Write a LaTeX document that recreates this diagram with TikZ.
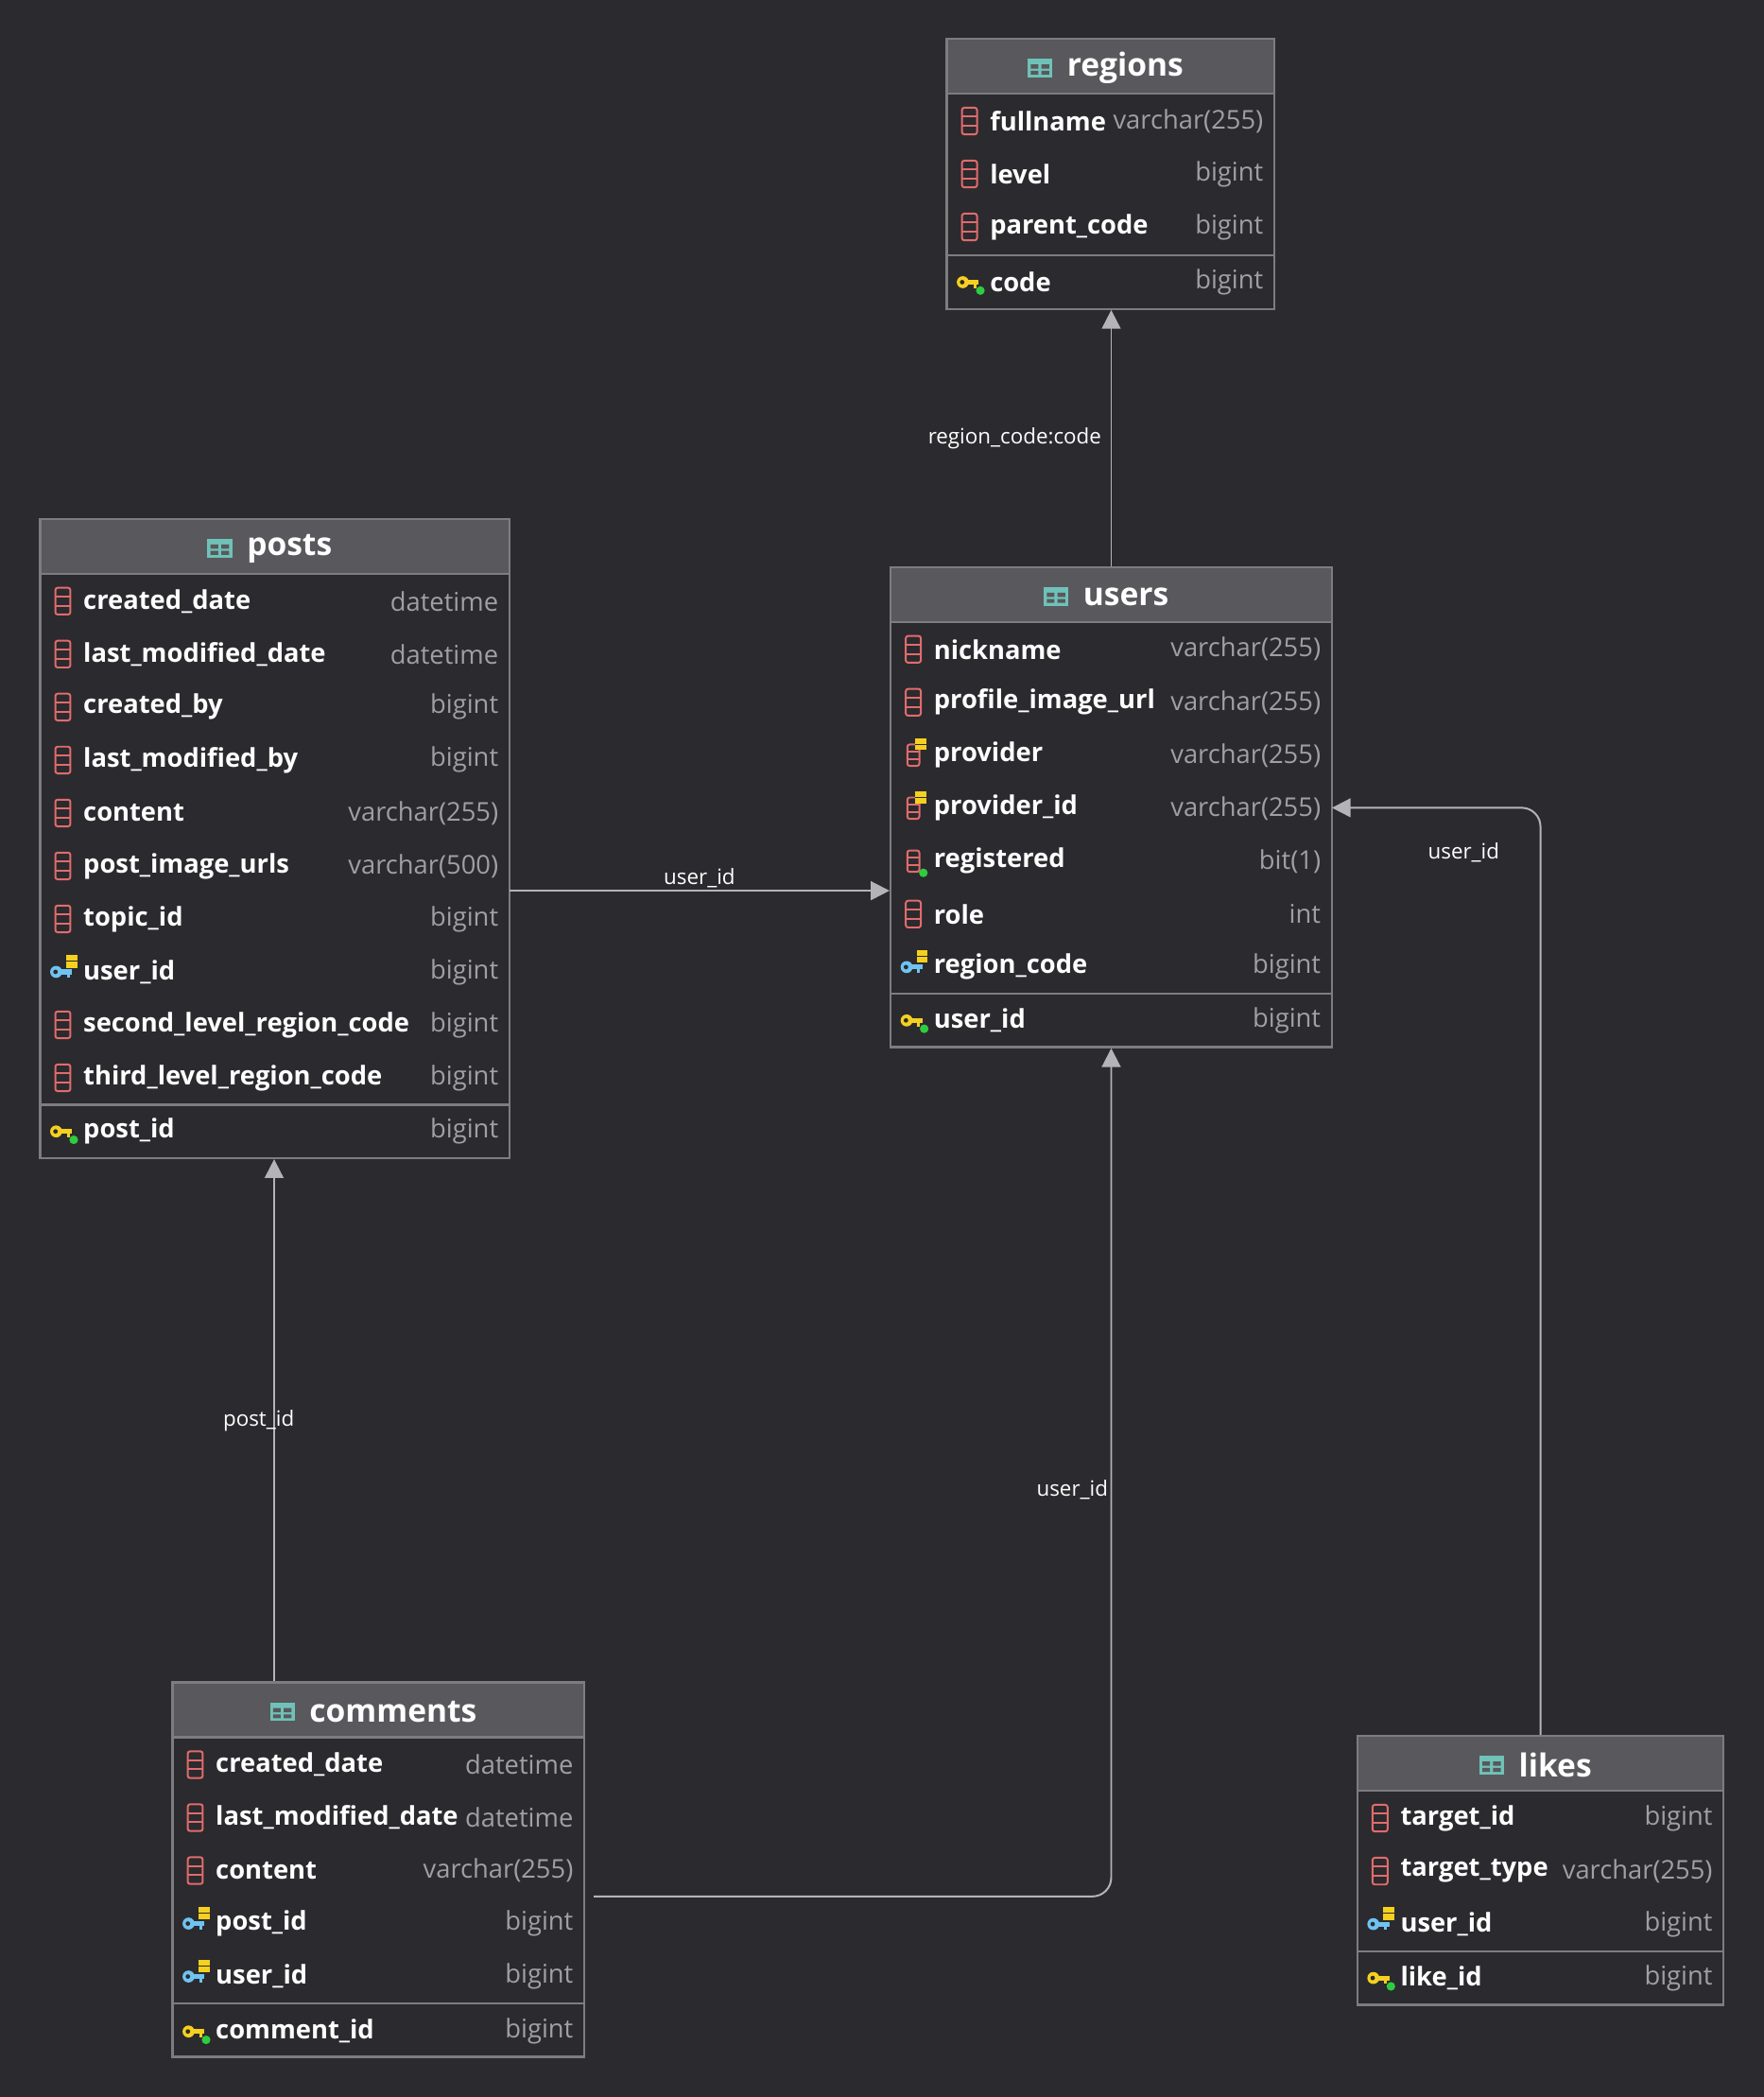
\documentclass[tikz,border=0pt]{standalone}
\usepackage{fontspec}
\setmainfont{Open Sans}
\usetikzlibrary{arrows.meta,fit}

\definecolor{bgColor}{RGB}{43,42,46}
\definecolor{hdrColor}{RGB}{89,88,92}
\definecolor{lineColor}{RGB}{125,125,128}
\definecolor{linkColor}{RGB}{180,180,184}
\definecolor{typeColor}{RGB}{160,160,164}
\definecolor{tealColor}{RGB}{111,194,184}
\definecolor{colColor}{RGB}{224,108,108}
\definecolor{pkColor}{RGB}{245,208,32}
\definecolor{fkColor}{RGB}{111,195,240}
\definecolor{nnColor}{RGB}{46,204,64}

\tikzset{
  tline/.style={draw=lineColor,line width=0.9pt},
  tbox/.style={draw=lineColor,line width=0.9pt,inner sep=0pt},
  ttitle/.style={text=white,font=\fontsize{13.5}{14}\selectfont\bfseries,inner sep=0pt},
  fname/.style={text=white,font=\fontsize{11}{12}\selectfont\bfseries,anchor=west,inner sep=0pt},
  ftype/.style={text=typeColor,font=\fontsize{11}{12}\selectfont,anchor=east,inner sep=0pt},
  link/.style={draw=linkColor,line width=0.8pt,rounded corners=8,-{Triangle[length=0.28cm,width=0.28cm]}},
  linklabel/.style={text=white,font=\fontsize{9}{10}\selectfont,inner sep=1pt},
  tblicon/.pic={
    \fill[tealColor] (-8,-6) rectangle (8,6);
    \fill[hdrColor] (-6,-2.5) rectangle (-1,0.3) (1,-2.5) rectangle (6,0.3)
      (-6,1.7) rectangle (-1,4.2) (1,1.7) rectangle (6,4.2);},
  ercol/.pic={
    \draw[colColor,line width=0.8pt,rounded corners=1] (-4.5,-8) rectangle (4.5,8);
    \draw[colColor,line width=0.8pt] (-4.5,-2.7) -- (4.5,-2.7) (-4.5,2.7) -- (4.5,2.7);},
  eridx/.pic={
    \pic {ercol};
    \fill[pkColor] (1,-10) rectangle (8,-3);
    \draw[bgColor,line width=0.4pt] (1,-6.5) -- (8,-6.5);},
  ernn/.pic={
    \pic {ercol};
    \fill[nnColor] (6,7) circle (2.6);},
  erkey/.pic={
    \fill (-5,0) circle (4.5);
    \fill[bgColor] (-5.5,0) circle (1.7);
    \fill (-1,-1.8) rectangle (7,1.8);
    \fill (3,0) rectangle (5,4.5);},
  erpk/.pic={
    \pic[pkColor] {erkey};
    \fill[nnColor] (6.5,5) circle (2.6);},
  erfk/.pic={
    \pic[fkColor] {erkey};
    \fill[pkColor] (2,-10) rectangle (8.5,-2.5);
    \draw[bgColor,line width=0.4pt] (2,-6.3) -- (8.5,-6.3);},
}

% table frame: name, x1, y1, x2, y2, separator y, title
\newcommand\erTable[7]{%
  \fill[hdrColor] (#2,#3) rectangle (#4,#3+41);
  \draw[tline] (#2,#3+41) -- (#4,#3+41);
  \draw[tline] (#2,#6) -- (#4,#6);
  \node[tbox,fit={(#2,#3) (#4,#5)}] (#1) {};
  \node[ttitle] (#1-h) at ({(#2+#4)/2+11},#3+22) {#7};
  \pic[scale=1.15] at ([xshift=-0.4cm]#1-h.west) {tblicon};}
% plain rows: name, x1, y1, x2, list icon/field/type
\newcommand\erRows[5]{%
  \foreach \ic/\nm/\ty [count=\i] in {#5} {
    \pgfmathsetmacro\yy{#3+61.5+(\i-1)*39.6}
    \pic[scale=1.25] at (#2+17,\yy) {\ic};
    \node[fname] (#1-n\i) at (#2+32,\yy) {\nm};
    \node[ftype] (#1-t\i) at (#4-8,\yy) {\ty};}}
% key row under the separator: name, x1, y, x2, field, type
\newcommand\erKey[6]{%
  \pic[scale=1.25] at (#2+17,#3) {erpk};
  \node[fname] (#1-k) at (#2+32,#3) {#5};
  \node[ftype] (#1-kt) at (#4-8,#3) {#6};}

\begin{document}
\begin{tikzpicture}[x=0.02cm,y=-0.02cm]
  \useasboundingbox[fill=bgColor] (0,0) rectangle (1319,1568);

  % regions
  \erTable{regions}{708}{29}{953}{231}{191}{regions}
  \erRows{regions}{708}{29}{953}{ercol/fullname/varchar(255), ercol/level/bigint,
    ercol/parent\_code/bigint}
  \erKey{regions}{708}{211}{953}{code}{bigint}

  % users
  \erTable{users}{666}{424}{996}{783}{743}{users}
  \erRows{users}{666}{424}{996}{ercol/nickname/varchar(255),
    ercol/profile\_image\_url/varchar(255), eridx/provider/varchar(255),
    eridx/provider\_id/varchar(255), ernn/registered/bit(1), ercol/role/int,
    erfk/region\_code/bigint}
  \erKey{users}{666}{763}{996}{user\_id}{bigint}

  % posts
  \erTable{posts}{30}{388}{381}{866}{826}{posts}
  \erRows{posts}{30}{388}{381}{ercol/created\_date/datetime,
    ercol/last\_modified\_date/datetime, ercol/created\_by/bigint,
    ercol/last\_modified\_by/bigint, ercol/content/varchar(255),
    ercol/post\_image\_urls/varchar(500), ercol/topic\_id/bigint,
    erfk/user\_id/bigint, ercol/second\_level\_region\_code/bigint,
    ercol/third\_level\_region\_code/bigint}
  \erKey{posts}{30}{846}{381}{post\_id}{bigint}

  % comments
  \erTable{comments}{129}{1258}{437}{1538}{1498}{comments}
  \erRows{comments}{129}{1258}{437}{ercol/created\_date/datetime,
    ercol/last\_modified\_date/datetime, ercol/content/varchar(255),
    erfk/post\_id/bigint, erfk/user\_id/bigint}
  \erKey{comments}{129}{1519}{437}{comment\_id}{bigint}

  % likes
  \erTable{likes}{1015}{1298}{1289}{1499}{1459}{likes}
  \erRows{likes}{1015}{1298}{1289}{ercol/target\_id/bigint,
    ercol/target\_type/varchar(255), erfk/user\_id/bigint}
  \erKey{likes}{1015}{1479}{1289}{like\_id}{bigint}

  % links
  \draw[link] (users.north -| 831,0) -- (regions.south -| 831,0)
    node[linklabel,pos=0.5,left,xshift=-0.1cm] {region\_code:code};
  \coordinate (pu) at (381,666);
  \draw[link] (pu) -- (pu -| users.west)
    node[linklabel,pos=0.5,above] {user\_id};
  \draw[link] (comments.north -| 205,0) -- (posts.south -| 205,0)
    node[linklabel,pos=0.5,left,xshift=0.35cm] {post\_id};
  \coordinate (cu) at (444,1418);
  \draw[link] (cu) -- (cu -| 831,0) -- (users.south -| 831,0)
    node[linklabel,pos=0.48,left] {user\_id};
  \coordinate (lu) at (996,604);
  \draw[link] (likes.north -| 1152,0) -- (lu -| 1152,0) -- (lu)
    node[linklabel,pos=0.4,above,yshift=-0.87cm,xshift=0.1cm] {user\_id};
\end{tikzpicture}
\end{document}
